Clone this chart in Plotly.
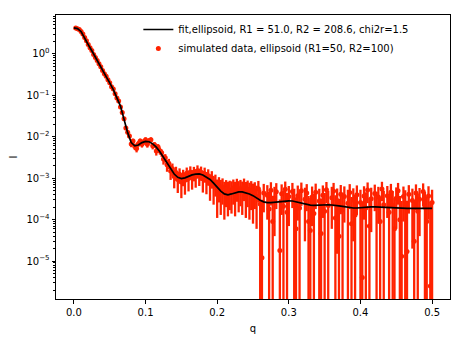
import numpy as np
import plotly.graph_objects as go

# ---------------- data ----------------
q_data = np.linspace(0.0025, 0.5, 200)

I_data = [
    # q 0.0025 .. 0.12
    4.229, 4.054, 3.875, 3.464, 3.004, 2.488, 2.065, 1.681, 1.403, 1.206,
    0.971, 0.819, 0.689, 0.577, 0.491, 0.400, 0.331, 0.288, 0.237, 0.2026,
    0.1609, 0.1414, 0.1100, 0.0857, 0.0726, 0.0526, 0.0387, 0.0274, 0.0162, 0.0129,
    0.0105, 0.00673, 0.00787, 0.00584, 0.00524, 0.00679, 0.0079, 0.00662, 0.0076, 0.00850,
    0.00664, 0.00801, 0.00853, 0.00606, 0.00639, 0.00452, 0.0057, 0.00462,
    # q 0.1225 .. 0.25
    0.0041, 0.0029, 0.0031, 0.0021, 0.0023, 0.0015, 0.0017, 0.0011, 0.00138, 0.00093,
    0.00124, 0.00081, 0.00112, 0.00089, 0.00131, 0.00098, 0.00142, 0.00105, 0.00136, 0.00112,
    0.00151, 0.00118, 0.00139, 0.00097, 0.00129, 0.00091, 0.00115, 0.00076, 0.00102, 0.00067,
    0.00079, 0.00052, 0.00066, 0.00052, 0.00061, 0.00046, 0.00055, 0.00047, 0.00052, 0.00049,
    0.00058, 0.00047, 0.00062, 0.00050, 0.00056, 0.00048, 0.00063, 0.00046, 0.00054, 0.00044,
    0.00051, 0.00041,
    # q 0.2525 .. 0.5
    4.9e-4, 3.6e-4, 5.6e-4, 2.4e-4, 0.12e-4, 4.4e-4, -0.8e-4, 3.9e-4, 1.8e-4, 5.1e-4,
    0.9e-4, 3.3e-4, 4.7e-4, -1.1e-4, 0.18e-4, 4.2e-4, 2.1e-4, 5.4e-4, 1.5e-4, 3.6e-4,
    -0.5e-4, 4.8e-4, 2.7e-4, 0.6e-4, 3.8e-4, 1.9e-4, 5.0e-4, -1.4e-4, 3.1e-4, 4.4e-4,
    0.9e-4, 0.55e-4, 3.5e-4, 1.4e-4, 4.6e-4, -0.7e-4, 2.8e-4, 0.46e-4, 3.9e-4, 1.6e-4,
    5.3e-4, 2.2e-4, -0.9e-4, 3.4e-4, 4.9e-4, 1.1e-4, 2.9e-4, 0.4e-4, 4.1e-4, 1.7e-4,
    3.6e-4, -1.2e-4, 2.5e-4, 4.5e-4, 0.8e-4, 3.0e-4, 1.3e-4, 4.0e-4, -0.6e-4, 2.6e-4,
    0.04e-4, 3.7e-4, 1.9e-4, 5.2e-4, 0.7e-4, 3.2e-4, -1.0e-4, 4.3e-4, 2.0e-4, 3.5e-4,
    0.9e-4, 5.5e-4, 2.3e-4, -0.4e-4, 3.8e-4, 1.5e-4, 4.6e-4, 2.2e-4, 0.6e-4, 3.3e-4,
    5.0e-4, 1.0e-4, 0.13e-4, 3.6e-4, 2.4e-4, 0.17e-4, 4.1e-4, -0.8e-4, 2.9e-4, 0.3e-4,
    4.4e-4, 1.6e-4, 3.1e-4, -1.3e-4, 4.8e-4, 2.0e-4, 0.9e-4, 3.7e-4, 0.025e-4, 2.6e-4,
]

I_err = [
    0.0265, 0.0261, 0.0254, 0.0241, 0.0224, 0.0205, 0.0185, 0.0168, 0.0153, 0.0141,
    0.0128, 0.0117, 0.0107, 0.0099, 0.0090, 0.0082, 0.0075, 0.0069, 0.0063, 0.0058,
    0.0053, 0.0048, 0.0043, 0.0038, 0.0034, 0.0030, 0.0025, 0.0021, 0.00176, 0.00147,
    0.00129, 0.00113, 0.00108, 0.00104, 0.00104, 0.00106, 0.00110, 0.00113, 0.00116, 0.00117,
    0.00117, 0.00116, 0.00113, 0.00110, 0.00105, 0.00100, 0.00095, 0.00089,
    8.3e-4, 7.7e-4, 7.2e-4, 6.7e-4, 6.3e-4, 5.9e-4, 5.6e-4, 5.3e-4, 5.1e-4, 4.9e-4,
    4.9e-4, 4.8e-4, 4.8e-4, 4.9e-4, 5.0e-4, 5.0e-4, 5.1e-4, 5.2e-4, 5.2e-4, 5.3e-4,
    5.3e-4, 5.3e-4, 5.2e-4, 5.2e-4, 5.1e-4, 5.0e-4, 4.9e-4, 4.75e-4, 4.6e-4, 4.4e-4,
    4.3e-4, 4.1e-4, 4.0e-4, 3.9e-4, 3.8e-4, 3.6e-4, 3.5e-4, 3.5e-4, 3.5e-4, 3.5e-4,
    3.5e-4, 3.5e-4, 3.5e-4, 3.5e-4, 3.5e-4, 3.5e-4, 3.5e-4, 3.5e-4, 3.4e-4, 3.4e-4,
    3.4e-4, 3.3e-4,
    3.1e-4, 3.0e-4, 3.0e-4, 2.95e-4, 2.9e-4, 2.9e-4, 2.9e-4, 2.9e-4, 2.9e-4, 2.9e-4,
    2.9e-4, 2.9e-4, 2.9e-4, 2.9e-4, 2.9e-4, 2.9e-4, 2.9e-4, 2.9e-4, 2.9e-4, 2.9e-4,
    2.9e-4, 2.9e-4, 2.9e-4, 2.85e-4, 2.85e-4, 2.85e-4, 2.85e-4, 2.85e-4, 2.8e-4, 2.8e-4,
    2.8e-4, 2.8e-4, 2.8e-4, 2.8e-4, 2.8e-4, 2.8e-4, 2.8e-4, 2.8e-4, 2.8e-4, 2.8e-4,
    2.8e-4, 2.8e-4, 2.8e-4, 2.8e-4, 2.8e-4, 2.8e-4, 2.75e-4, 2.75e-4, 2.75e-4, 2.75e-4,
    2.75e-4, 2.75e-4, 2.75e-4, 2.7e-4, 2.7e-4, 2.7e-4, 2.7e-4, 2.7e-4, 2.7e-4, 2.7e-4,
    2.7e-4, 2.7e-4, 2.7e-4, 2.7e-4, 2.7e-4, 2.7e-4, 2.7e-4, 2.7e-4, 2.7e-4, 2.7e-4,
    2.7e-4, 2.7e-4, 2.7e-4, 2.7e-4, 2.7e-4, 2.7e-4, 2.7e-4, 2.7e-4, 2.7e-4, 2.7e-4,
    2.7e-4, 2.7e-4, 2.7e-4, 2.7e-4, 2.7e-4, 2.7e-4, 2.7e-4, 2.7e-4, 2.7e-4, 2.7e-4,
    2.7e-4, 2.7e-4, 2.7e-4, 2.7e-4, 2.7e-4, 2.7e-4, 2.7e-4, 2.7e-4, 2.7e-4, 2.7e-4,
]

q_fit = np.linspace(0.0, 0.5, 101)
I_fit = [
    4.25, 4.07, 3.47, 2.51, 1.68, 1.19, 0.813, 0.589, 0.398, 0.282,
    0.200, 0.138, 0.0871, 0.0550, 0.0263, 0.0126, 0.00724, 0.00603, 0.00631, 0.00724,
    0.00776, 0.00759, 0.00676, 0.00562, 0.00437, 0.00316, 0.00229, 0.00166, 0.00126, 0.00105,
    0.000977, 0.00102, 0.00112, 0.00120, 0.00126, 0.00127, 0.00120, 0.00107, 0.000933, 0.000759,
    0.000603, 0.000490, 0.000417, 0.000398, 0.000417, 0.000447, 0.000468, 0.000468, 0.000447, 0.000417,
    0.000380, 0.000331, 0.000295, 0.000269, 0.000257, 0.000257, 0.000263, 0.000272, 0.000282, 0.000285,
    0.000285, 0.000282, 0.000269, 0.000257, 0.000243, 0.000232, 0.000224, 0.000221, 0.000224, 0.000226,
    0.000229, 0.000229, 0.000226, 0.000224, 0.000216, 0.000209, 0.000200, 0.000193, 0.000191, 0.000191,
    0.000195, 0.000200, 0.000204, 0.000204, 0.000204, 0.000202, 0.000200, 0.000195, 0.000191, 0.000188,
    0.000188, 0.000188, 0.000188, 0.000188, 0.000188, 0.000188, 0.000188, 0.000188, 0.000188, 0.000188,
    0.000188,
]

fit_label = "fit,ellipsoid, R1 = 51.0, R2 = 208.6, chi2r=1.5"
data_label = "simulated data, ellipsoid (R1=50, R2=100)"

x_tick_vals = [0.0, 0.1, 0.2, 0.3, 0.4, 0.5]
x_tick_text = ["0.0", "0.1", "0.2", "0.3", "0.4", "0.5"]
y_tick_vals = [1e-5, 1e-4, 1e-3, 1e-2, 1e-1, 1e0]
y_tick_text = ["10<sup>\u22125</sup>", "10<sup>\u22124</sup>", "10<sup>\u22123</sup>",
               "10<sup>\u22122</sup>", "10<sup>\u22121</sup>", "10<sup>0</sup>"]
y_minor_vals = [m * 10.0 ** e for e in range(-7, 1) for m in range(2, 10)]

RED = "#ff2200"
FONT = "DejaVu Sans"

fig = go.Figure()
fig.add_trace(go.Scatter(
    x=q_data, y=I_data, mode="markers", name=data_label,
    marker=dict(color=RED, size=5),
    error_y=dict(type="data", array=I_err, visible=True, color=RED,
                 thickness=2.3, width=0),
    legendrank=2, hoverinfo="skip",
))
fig.add_trace(go.Scatter(
    x=q_fit, y=I_fit, mode="lines", name=fit_label,
    line=dict(color="black", width=1.7),
    legendrank=1, hoverinfo="skip",
))

fig.update_layout(
    width=474, height=345,
    margin=dict(l=56, r=24, t=15, b=38),
    paper_bgcolor="white", plot_bgcolor="white",
    font=dict(family=FONT, size=10, color="black"),
    showlegend=True,
    legend=dict(x=0.209, y=1.0, xanchor="left", yanchor="top",
                bgcolor="rgba(0,0,0,0)", borderwidth=0,
                font=dict(family=FONT, size=10, color="black"),
                tracegroupgap=0),
    xaxis=dict(range=[-0.025, 0.525], showgrid=False, zeroline=False,
               showline=True, mirror=True, linecolor="black", linewidth=1,
               ticks="outside", ticklen=3.5, tickwidth=0.8, tickcolor="black",
               tickmode="array", tickvals=x_tick_vals, ticktext=x_tick_text,
               title=dict(text="q", standoff=8, font=dict(size=10))),
    yaxis=dict(type="log", range=[-5.915, 0.939], showgrid=False, zeroline=False,
               showline=True, mirror=True, linecolor="black", linewidth=1,
               ticks="outside", ticklen=3.5, tickwidth=0.8, tickcolor="black",
               tickmode="array", tickvals=y_tick_vals, ticktext=y_tick_text,
               minor=dict(tickmode="array", tickvals=y_minor_vals, ticks="outside",
                          ticklen=2, tickwidth=0.6, tickcolor="black", showgrid=False),
               title=dict(text="I", standoff=6, font=dict(size=10))),
)

fig.write_html("out.html", config={"displayModeBar": False})
